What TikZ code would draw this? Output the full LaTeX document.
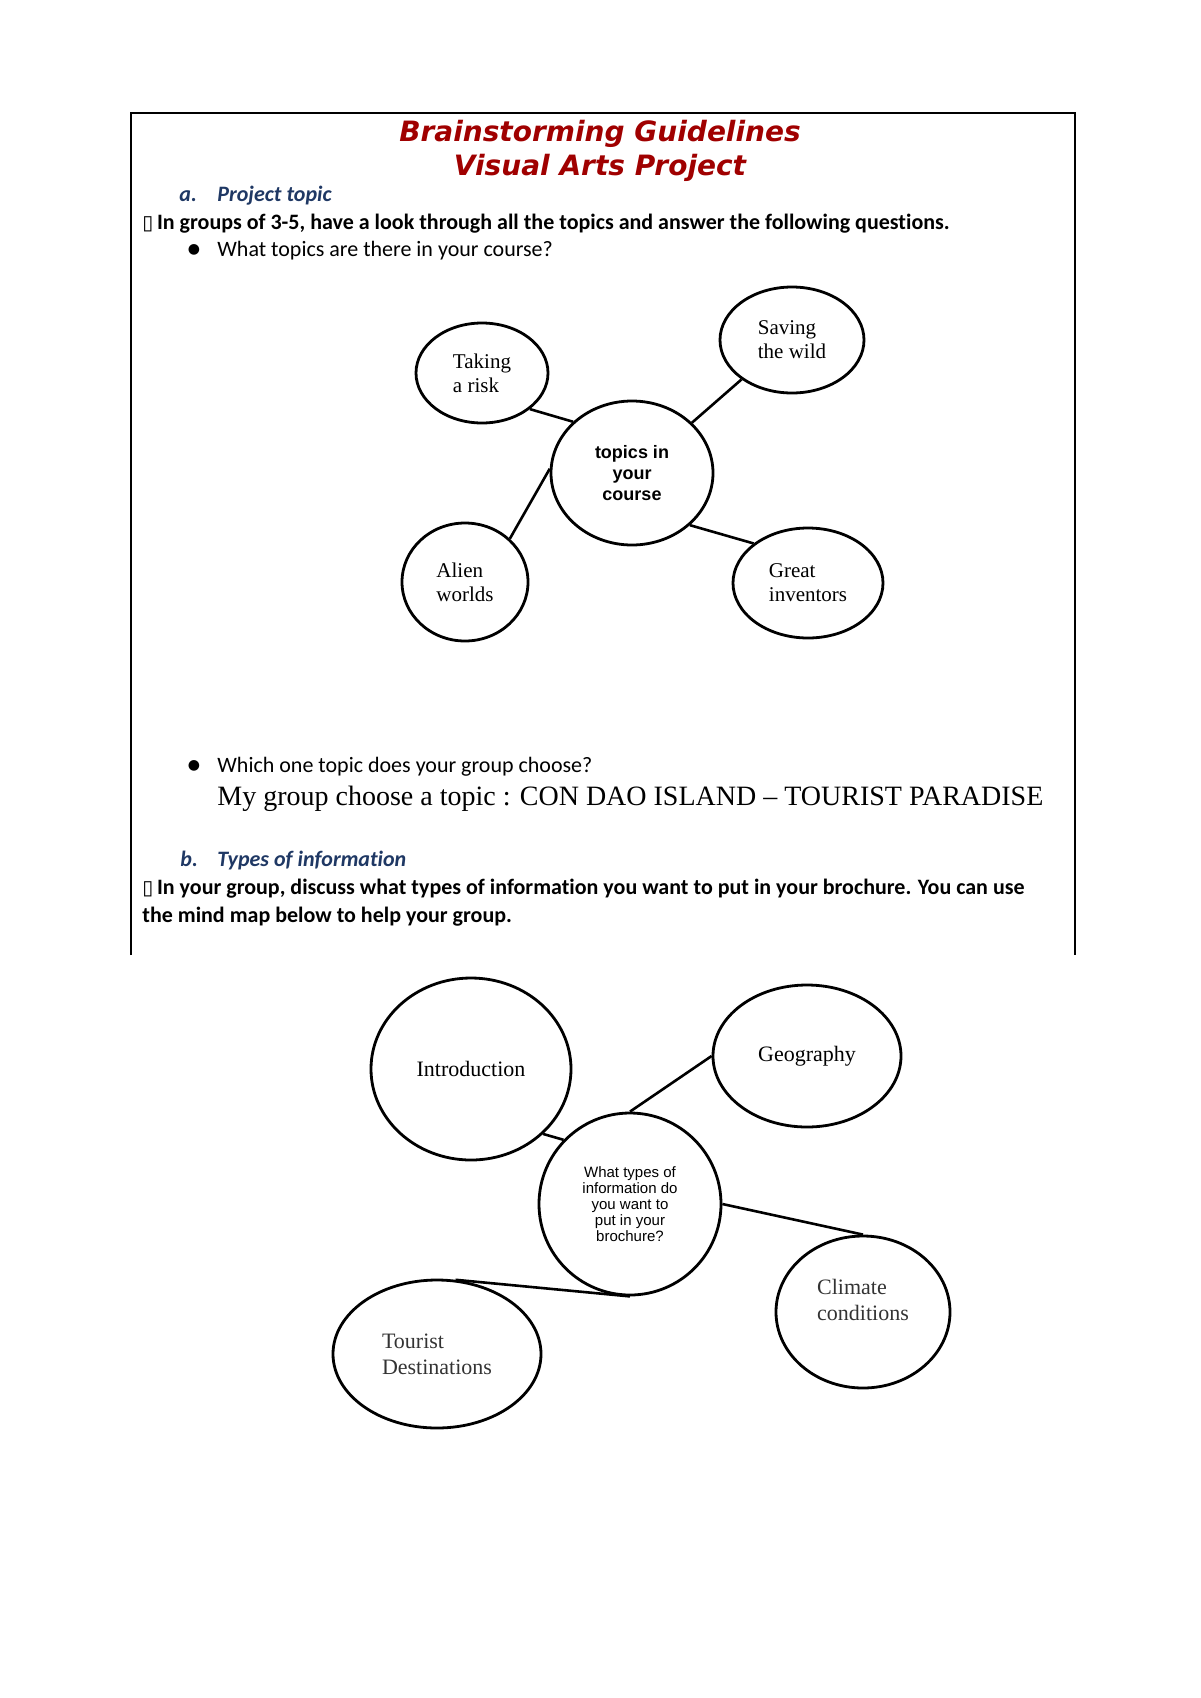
\documentclass[tikz,border=0pt]{standalone}
\usepackage{fontspec}
\setmainfont{Carlito}[Ligatures=NoCommon]
\newfontfamily\titlefont{DejaVu Sans}
\newfontfamily\symfont{DejaVu Sans}
\newfontfamily\bubfont{Liberation Serif}
\newfontfamily\hubfont{Liberation Sans}
\usetikzlibrary{shapes.geometric}
\definecolor{headred}{HTML}{A00000}
\definecolor{headblue}{HTML}{1F3864}

\begin{document}
\begin{tikzpicture}[
    x=0.5pt, y=-0.5pt,
    every node/.style={inner sep=0pt},
    link/.style={line width=1.3pt},
    bubble/.style={draw, ellipse, line width=1.4pt, align=center},
    txt/.style={anchor=base west, font=\fontsize{11}{13}\selectfont},
    bubtxt/.style={font=\bubfont\fontsize{10.5}{12}\selectfont},
    bubtxtb/.style={font=\bubfont\fontsize{11}{13}\selectfont, text=black!80},
    dot/.style={font=\symfont\fontsize{7}{7}\selectfont},
  ]
  \useasboundingbox (0,0) rectangle (1200,1698);

  % Rahmen, unten offen
  \draw[line width=1pt] (131,955) -- (131,113) -- (1075,113) -- (1075,955);

  % Ueberschrift
  \node[font=\titlefont\bfseries\itshape\fontsize{14}{17}\selectfont, text=headred, anchor=base]
    (title1) at (600,141) {Brainstorming Guidelines};
  \node[font=\titlefont\bfseries\itshape\fontsize{14}{17}\selectfont, text=headred, anchor=base]
    (title2) at (600,175) {Visual Arts Project};

  % Teil a
  \node[txt, font=\fontsize{11}{13}\selectfont\bfseries\itshape, text=headblue] (a-lbl) at (179,201) {a.};
  \node[txt, font=\fontsize{11}{13}\selectfont\bfseries\itshape, text=headblue] (a-head) at (217,201) {Project topic};
  \node[txt] (a-task) at (142,229)
    {{\symfont\fontsize{10}{10}\selectfont ▯}\,\textbf{In groups of 3-5, have a look through all the topics and answer the following questions.}};
  \node[dot] (bul1) at (194,250) {●};
  \node[txt] (q1) at (217,256) {What topics are there in your course?};

  % Mindmap 1
  \node[bubble, minimum width=81pt, minimum height=72pt,
        font=\hubfont\bfseries\fontsize{9}{10.5}\selectfont] (topic) at (632,473) {topics in\\your\\course};
  \node[bubble, minimum width=66pt, minimum height=50pt, bubtxt, align=left] (take) at (482,373) {Taking\\a risk};
  \node[bubble, minimum width=72pt, minimum height=53pt, bubtxt, align=left] (save) at (792,340) {Saving\\the wild};
  \node[bubble, minimum width=63pt, minimum height=59pt, bubtxt, align=left] (alien) at (465,582) {Alien\\worlds};
  \node[bubble, minimum width=75pt, minimum height=55pt, bubtxt, align=left] (great) at (808,583) {Great\\inventors};
  \draw[link] (take.-37) -- (topic.139);
  \draw[link] (save.-142) -- (topic.40);
  \draw[link] (alien.44) -- (topic.177);
  \draw[link] (topic.-42) -- (great.144);

  \node[dot] (bul2) at (194,766) {●};
  \node[txt] (q2) at (217,772) {Which one topic does your group choose?};
  \node[txt, font=\bubfont\fontsize{14}{17}\selectfont] (answer) at (217,805)
    {My group choose a topic : CON DAO ISLAND – TOURIST PARADISE};

  % Teil b
  \node[txt, font=\fontsize{11}{13}\selectfont\bfseries\itshape, text=headblue] (b-lbl) at (180,866) {b.};
  \node[txt, font=\fontsize{11}{13}\selectfont\bfseries\itshape, text=headblue] (b-head) at (217,866) {Types of information};
  \node[txt] (b-task1) at (142,894)
    {{\symfont\fontsize{10}{10}\selectfont ▯}\,\textbf{In your group, discuss what types of information you want to put in your brochure. You can use}};
  \node[txt, font=\fontsize{11}{13}\selectfont\bfseries] (b-task2) at (142,922) {the mind map below to help your group.};

  % Mindmap 2
  \node[bubble, minimum width=91pt, minimum height=91pt,
        font=\hubfont\fontsize{7.5}{8}\selectfont] (info) at (630,1204)
    {What types of\\information do\\you want to\\put in your\\brochure?};
  \node[bubble, minimum width=100pt, minimum height=91pt, bubtxtb, text=black] (intro) at (471,1069) {Introduction};
  \node[bubble, minimum width=94pt, minimum height=71pt, bubtxtb, text=black] (geo) at (807,1056) {Geography};
  \node[bubble, minimum width=87pt, minimum height=76pt,
        label={[bubtxtb, align=left, yshift=6pt]center:Climate\\conditions}] (clim) at (863,1312) {};
  \node[bubble, minimum width=104pt, minimum height=74pt, bubtxtb, align=left] (tour) at (437,1354) {Tourist\\Destinations};
  \draw[link] (intro.-42) -- (info.136);
  \draw[link] (info.north) -- (geo.west);
  \draw[link] (info.east) -- (clim.north);
  \draw[link] (tour.76) -- (info.south);
\end{tikzpicture}
\end{document}
